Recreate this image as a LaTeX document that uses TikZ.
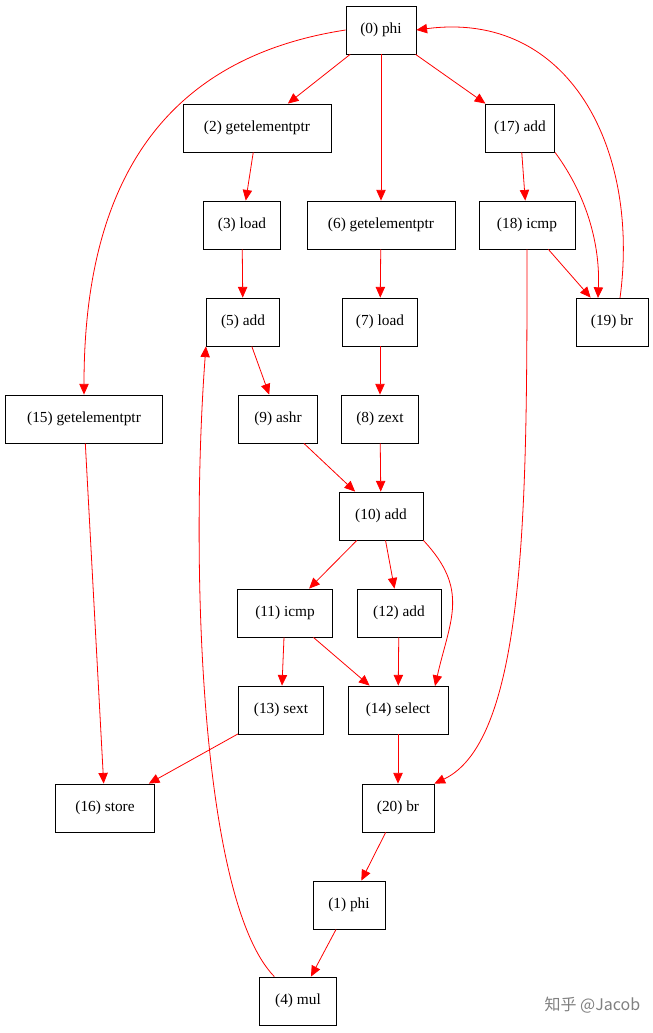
\documentclass[tikz,border=0pt]{standalone}
\usepackage{fontspec}
\setmainfont{Liberation Serif}
\newfontfamily\cjk{Noto Sans CJK SC}
\usetikzlibrary{arrows.meta}
\begin{document}
\begin{tikzpicture}[x=0.75pt,y=-0.75pt,
  n/.style={draw,semithick,minimum height=36pt,inner sep=0pt,font=\fontsize{11.5}{13}\selectfont},
  e/.style={red,semithick,-{Triangle[length=8pt,width=7pt]}}]
\useasboundingbox (0,0) rectangle (653,1033);
\node[n,minimum width=52.5pt] (n0) at (381,30) {(0) phi};
\node[n,minimum width=111pt] (n2) at (257,128) {(2) getelementptr};
\node[n,minimum width=52pt] (n17) at (520,128) {(17) add};
\node[n,minimum width=58pt] (n3) at (242,225) {(3) load};
\node[n,minimum width=111pt] (n6) at (381,225) {(6) getelementptr};
\node[n,minimum width=72pt] (n18) at (527,225) {(18) icmp};
\node[n,minimum width=55pt] (n5) at (243,322) {(5) add};
\node[n,minimum width=56pt] (n7) at (380,322) {(7) load};
\node[n,minimum width=54pt] (n19) at (612,322) {(19) br};
\node[n,minimum width=118pt] (n15) at (84,419) {(15) getelementptr};
\node[n,minimum width=59pt] (n9) at (278,419) {(9) ashr};
\node[n,minimum width=58pt] (n8) at (380,419) {(8) zext};
\node[n,minimum width=63pt] (n10) at (381,516) {(10) add};
\node[n,minimum width=71pt] (n11) at (285,613) {(11) icmp};
\node[n,minimum width=63pt] (n12) at (399,613) {(12) add};
\node[n,minimum width=64pt] (n13) at (281,710) {(13) sext};
\node[n,minimum width=75pt] (n14) at (398,710) {(14) select};
\node[n,minimum width=74pt] (n16) at (105,808) {(16) store};
\node[n,minimum width=54pt] (n20) at (398,808) {(20) br};
\node[n,minimum width=54pt] (n1) at (349,905) {(1) phi};
\node[n,minimum width=58pt] (n4) at (298,1001) {(4) mul};
\draw[e] (n0) -- (n2);
\draw[e] (n0) -- (n6);
\draw[e] (n0) -- (n17);
\draw[e] (n0.west) .. controls (150,60) and (84,200) .. (n15.north);
\draw[e] (n2) -- (n3);
\draw[e] (n3) -- (n5);
\draw[e] (n5) -- (n9);
\draw[e] (n9) -- (n10);
\draw[e] (n6) -- (n7);
\draw[e] (n7) -- (n8);
\draw[e] (n8) -- (n10);
\draw[e] (n10) -- (n11);
\draw[e] (n10) -- (n12);
\draw[e] (n10.south east) .. controls (470,590) and (450,620) .. (435,686);
\draw[e] (n11) -- (n13);
\draw[e] (n11) -- (n14);
\draw[e] (n12) -- (n14);
\draw[e] (n13) -- (n16);
\draw[e] (n15) -- (n16);
\draw[e] (n14) -- (n20);
\draw[e] (n18.south) .. controls (527,500) and (527,740) .. (n20.north east);
\draw[e] (n17) -- (n18);
\draw[e] (n17.south east) .. controls (590,200) and (600,250) .. (598,298);
\draw[e] (n18) -- (n19);
\draw[e] (620,298) .. controls (640,150) and (570,10) .. (n0.east);
\draw[e] (n20) -- (n1);
\draw[e] (n1) -- (n4);
\draw[e] (n4) .. controls (200,900) and (190,560) .. (n5.south west);
\node[gray,font=\cjk\fontsize{12}{14}\selectfont,anchor=east] (wm) at (645,1005) {知乎 @Jacob};
\end{tikzpicture}
\end{document}
